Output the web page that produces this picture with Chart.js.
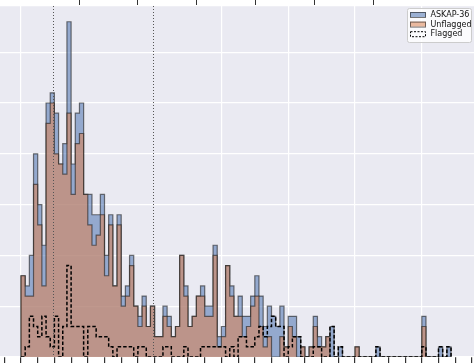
<!DOCTYPE html>
<html>
<head>
<meta charset="utf-8">
<script src="https://cdn.jsdelivr.net/npm/chart.js@4.4.1/dist/chart.umd.min.js"></script>
<style>
  html, body { margin: 0; padding: 0; background: #fff; }
  #wrap { width: 474px; height: 363px; }
</style>
</head>
<body>
<div id="wrap"><canvas id="hist"></canvas></div>
<script>
// counts per bin, bin width = 1/16 of a major grid step, first bin starts on a major line
const askap = [8,7,10,20,15,11,25,26,24,19, 21,33,19,24,25,16,16,14,14,16,
  10,14,7,14,6,7,10,5,4,6, 3,5,2,2,5,4,2,3,10,7, 3,4,6,7,5,5,11,2,3,9,
  7,4,6,4,4,6,8,6,3,5, 4,3,5,1,4,4,2,1,0,1, 4,2,1,2,3,0,1,0,0,0,
  1,0,0,0,0,1,0,0,0,0, 0,0,0,0,0,0,4,0,0,0, 1,0,1];
const unflagged = [8,6,6,17,13,7,23,25,20,19, 18,24,16,21,22,16,13,11,12,14,
  8,13,7,13,5,6,9,5,3,5, 3,5,2,2,4,3,2,3,10,6, 3,4,6,6,4,4,10,1,2,9,
  6,4,4,2,3,5,6,3,1,2, 0,0,2,1,3,2,0,1,0,1, 3,1,1,2,0,0,0,0,0,0,
  1,0,0,0,0,0,0,0,0,0, 0,0,0,0,0,0,3,0,0,0, 0,0,0];
const flagged = [0,1,4,3,2,4,2,1,4,0, 3,9,3,3,3,0,3,3,2,2,
  2,1,0,1,1,1,1,0,1,1, 0,0,0,0,1,1,0,0,0,1, 0,0,0,1,1,1,1,1,1,0,
  1,0,2,2,1,1,2,3,2,3, 4,3,3,0,1,2,2,0,0,0, 1,1,0,0,3,0,1,0,0,0,
  0,0,0,0,0,1,0,0,0,0, 0,0,0,0,0,0,1,0,0,0, 1,0,1];
const markers = [7.66, 31.69];     // dotted vertical lines (bin units)
const xGrid = [0, 48, 64, 80, 96]; // vertical white grid lines seen in the picture
const topTicks = [1, 2, 3, 4, 5, 6];

// outline of a step histogram: up at the first edge, down at the last
function steps(vals) {
  const pts = [{x: 0, y: 0}];
  vals.forEach((v, i) => pts.push({x: i, y: v}));
  pts.push({x: vals.length, y: 0});
  return pts;
}

const decor = {
  id: 'decor',
  beforeDraw(chart) {
    const {ctx, chartArea: a} = chart;
    ctx.save();
    ctx.fillStyle = '#EAEAF2';
    ctx.fillRect(a.left, a.top, a.width, a.height);
    ctx.restore();
  },
  afterDatasetsDraw(chart) {
    const {ctx, chartArea: a} = chart;
    const xs = chart.scales.x;
    ctx.save();
    ctx.strokeStyle = '#555';
    ctx.lineWidth = 1;
    ctx.setLineDash([1, 2]);
    markers.forEach(m => {
      const px = Math.round(xs.getPixelForValue(m)) + 0.5;
      ctx.beginPath();
      ctx.moveTo(px, a.top);
      ctx.lineTo(px, a.bottom);
      ctx.stroke();
    });
    ctx.restore();
  },
  afterDraw(chart) {
    const {ctx, chartArea: a} = chart;
    const bx = a.right - 67, by = a.top + 2, bw = 64, bh = 34;
    ctx.save();
    ctx.fillStyle = 'rgba(255,255,255,0.8)';
    ctx.strokeStyle = '#cccccc';
    ctx.lineWidth = 1;
    ctx.beginPath();
    ctx.roundRect(bx + 0.5, by + 0.5, bw, bh, 2);
    ctx.fill();
    ctx.stroke();
    ctx.font = '8px "DejaVu Sans"';
    ctx.textBaseline = 'middle';
    chart.data.datasets.forEach((ds, i) => {
      const cy = by + 6.5 + i * 9.6;
      const px = bx + 3, pw = 16, ph = 5;
      if (ds.fill) {
        ctx.fillStyle = ds.legendFill;
        ctx.fillRect(px, cy - ph / 2, pw, ph);
        ctx.strokeStyle = ds.borderColor;
        ctx.setLineDash([]);
      } else {
        ctx.strokeStyle = '#000';
        ctx.setLineDash([2, 1.5]);
      }
      ctx.lineWidth = 1;
      ctx.strokeRect(px + 0.5, cy - ph / 2 + 0.5, pw - 1, ph);
      ctx.setLineDash([]);
      ctx.fillStyle = '#111';
      ctx.fillText(ds.label, bx + 23.5, cy + 0.5);
    });
    ctx.restore();
  }
};

new Chart(document.getElementById('hist'), {
  type: 'line',
  data: {
    datasets: [
      {
        label: 'ASKAP-36',
        data: steps(askap),
        stepped: 'before',
        fill: 'origin',
        backgroundColor: 'rgba(76,114,176,0.55)',
        legendFill: 'rgba(76,114,176,0.55)',
        borderColor: 'rgba(30,30,30,0.6)',
        borderWidth: 1.2,
        order: 3
      },
      {
        label: 'Unflagged',
        data: steps(unflagged),
        stepped: 'before',
        fill: 'origin',
        backgroundColor: 'rgba(221,132,82,0.55)',
        legendFill: 'rgba(221,132,82,0.55)',
        borderColor: 'rgba(30,30,30,0.6)',
        borderWidth: 1.2,
        order: 2
      },
      {
        label: 'Flagged',
        data: steps(flagged),
        stepped: 'before',
        fill: false,
        borderColor: '#000',
        borderWidth: 1.5,
        borderDash: [3.5, 2],
        order: 1
      }
    ]
  },
  options: {
    responsive: true,
    maintainAspectRatio: false,
    animation: false,
    layout: { padding: 0 },
    elements: { point: { radius: 0 }, line: { tension: 0 } },
    plugins: { legend: { display: false }, tooltip: { enabled: false } },
    scales: {
      x: {
        type: 'linear',
        min: -5.03,
        max: 108.5,
        afterBuildTicks: ax => {
          const t = [];
          for (let v = -4; v <= 108; v += 4) t.push({value: v});
          ax.ticks = t;
        },
        ticks: { display: false },
        grid: {
          color: ctx => (ctx.tick && xGrid.includes(ctx.tick.value)) ? '#ffffff' : 'rgba(0,0,0,0)',
          lineWidth: 1.2,
          tickColor: '#333',
          tickLength: 6
        },
        border: { display: false }
      },
      x2: {
        type: 'linear',
        position: 'top',
        min: -0.344,
        max: 7.717,
        afterBuildTicks: ax => { ax.ticks = topTicks.map(v => ({value: v})); },
        ticks: { display: false },
        grid: { drawOnChartArea: false, tickColor: '#333', tickLength: 6 },
        border: { display: false }
      },
      y: {
        min: 0,
        max: 34.55,
        ticks: { display: false, stepSize: 5 },
        grid: { color: '#ffffff', lineWidth: 1.2, drawTicks: false },
        border: { display: false }
      }
    }
  },
  plugins: [decor]
});
</script>
</body>
</html>
